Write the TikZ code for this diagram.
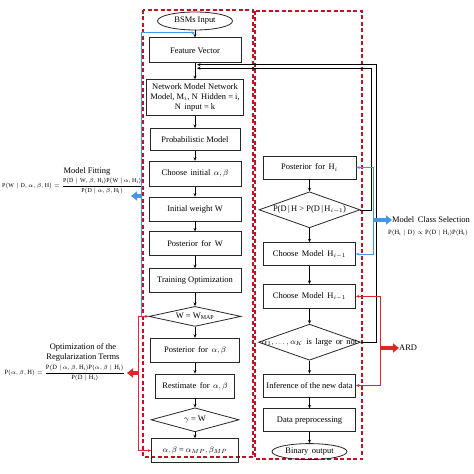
\documentclass[tikz,border=0pt]{standalone}
\usepackage{fontspec}
\usepackage{amsmath}
\setmainfont{Liberation Serif}
\usetikzlibrary{arrows.meta, positioning, shapes.geometric}

\definecolor{framered}{RGB}{196,18,36}
\definecolor{linkred}{RGB}{222,40,40}
\definecolor{linkblue}{RGB}{70,150,232}

\begin{document}
\begin{tikzpicture}[
    x=1bp, y=-1bp,
    font=\fontsize{8.5}{10}\selectfont,
    >={Stealth[length=3.5bp, width=3bp]},
    arrow/.style={->, line width=0.6bp},
    box/.style={rectangle, draw=black!85, line width=0.8bp, align=center, inner sep=1.5bp, minimum height=24bp, minimum width=92bp},
    terminal/.style={ellipse, draw=black!85, line width=0.8bp, inner sep=0bp, minimum width=75bp, minimum height=18bp},
    decision/.style={diamond, draw=black!85, line width=0.8bp, aspect=3, inner sep=0bp, minimum width=92bp, minimum height=20bp},
    dashframe/.style={draw=framered, line width=2.2bp, dash pattern=on 4bp off 2.5bp},
    blueline/.style={draw=linkblue, line width=0.8bp},
    redline/.style={draw=linkred, line width=0.8bp},
    fatblue/.style={draw=linkblue, line width=3.5bp, -{Triangle[length=6bp, width=9bp]}},
    fatred/.style={draw=linkred, line width=3.5bp, -{Triangle[length=6bp, width=9bp]}},
    eq/.style={inner sep=0bp, font=\fontsize{6.5}{7.5}\selectfont}
]
\useasboundingbox (0,0) rectangle (474,474);

% red dashed groups
\draw[dashframe] (143,10) rectangle (253,457);
\draw[dashframe] (255,11) rectangle (362,459);

% training column
\node[terminal] (bsm) at (195,21) {BSMs Input};
\node[box, minimum height=25bp, below=7bp of bsm] (fv) {Feature Vector};
\node[box, minimum height=36bp, minimum width=97bp, below=16bp of fv] (nm) {Network Model Network\\Model, M$_i$, N\, Hidden = i,\\N\, input = k};
\node[box, minimum height=22bp, minimum width=90bp, below=12bp of nm] (pm) {Probabilistic Model};
\node[box, minimum height=25bp, below=10bp of pm] (ci) {Choose\, initial\, $\alpha,\beta$};
\node[box, below=10bp of ci] (iw) {Initial weight W};
\node[box, below=10bp of iw] (pw) {Posterior\, for\, W};
\node[box, below=12bp of pw] (tro) {Training Optimization};
\node[decision, below=13bp of tro] (wmap) {W = W$_{\mathrm{MAP}}$};
\node[box, minimum width=89bp, below=11bp of wmap] (pab) {Posterior\, for\, $\alpha,\beta$};
\node[box, minimum width=79bp, below=11bp of pab] (rab) {Restimate\, for\, $\alpha,\beta$};
\node[decision, minimum width=88bp, minimum height=24bp, below=9bp of rab] (gw) {$\gamma$ = W};
\node[box, minimum width=87bp, below=6bp of gw] (abmp) {$\alpha,\beta$ = $\alpha_{MP},\beta_{MP}$};

% model selection column
\node[box, minimum height=23bp, minimum width=93bp] (phi) at (309.5,167.5) {Posterior\, for\, H$_i$};
\node[decision, minimum width=101bp, minimum height=36bp, below=12bp of phi] (dh) {P(D\,|\,H > P(D\,|\,H$_{i-1}$)};
\node[box, minimum height=23bp, below=14bp of dh] (cm1) {Choose\, Model\, H$_{i-1}$};
\node[box, below=18bp of cm1] (cm2) {Choose\, Model\, H$_{i-1}$};
\node[decision, minimum width=102bp, minimum height=36bp, inner xsep=-14bp, below=15bp of cm2] (da) {$\alpha_1,\ldots,\alpha_K$\, is\, large\, or\, not};
\node[box, minimum height=23bp, below=13bp of da] (inf) {Inference of the new data};
\node[box, minimum height=23bp, below=11bp of inf] (dp) {Data preprocessing};
\node[terminal, minimum height=16bp, below=11bp of dp] (bo) {Binary\, output};

% side notes
\node (fittitle) at (87,171) {Model Fitting};
\node[eq, anchor=west, font=\fontsize{6}{7}\selectfont] (fiteq) at (2,186) {$\mathrm{P(W\mid D,}\,\alpha,\beta,\mathrm{H)}=\dfrac{\mathrm{P(D\mid W,}\,\beta,\mathrm{H_i)P(W\mid}\,\alpha,\mathrm{H_i)}}{\mathrm{P(D\mid}\,\alpha,\beta,\mathrm{H_i)}}$};
\node[align=center] (opttitle) at (83,352) {Optimization of the\\Regularization Terms};
\node[eq, anchor=east] (opteq) at (125,373) {$\mathrm{P(}\alpha,\beta,\mathrm{H)}=\dfrac{\mathrm{P(D\mid}\,\alpha,\beta,\mathrm{H_i)P(}\alpha,\beta\mid\mathrm{H_i)}}{\mathrm{P(D\mid H_i)}}$};
\node[anchor=west, inner sep=0bp] (mcs) at (392,220) {Model\, Class Selection};
\node[eq, anchor=west] (mcseq) at (388,233) {$\mathrm{P(H_i\mid D)}\propto\mathrm{P(D\mid H_i)P(H_i)}$};
\node[anchor=west, inner sep=0bp] (ard) at (399,348) {ARD};

% flow
\draw[arrow] (bsm) -- (fv);
\draw[arrow] (fv) -- (nm);
\draw[arrow] (nm) -- (pm);
\draw[arrow] (pm) -- (ci);
\draw[arrow] (ci) -- (iw);
\draw[arrow] (iw) -- (pw);
\draw[arrow] (pw) -- (tro);
\draw[arrow] (tro) -- (wmap);
\draw[arrow] (wmap) -- (pab);
\draw[arrow] (pab) -- (rab);
\draw[arrow] (rab) -- (gw);
\draw[arrow] (gw) -- (abmp);
\draw[arrow] (phi) -- (dh);
\draw[arrow] (dh) -- (cm1);
\draw[arrow] (cm1) -- (cm2);
\draw[arrow] (cm2) -- (da);
\draw[arrow] (da) -- (inf);
\draw[arrow] (inf) -- (dp);
\draw[arrow] (dp) -- (bo);

% loops back to the network model
\coordinate (ret1) at ([xshift=2bp, yshift=-1.5bp]fv.south);
\coordinate (ret2) at ([xshift=2bp, yshift=-5bp]fv.south);
\draw[arrow] (da.east) -- ++(15,0) |- (ret1);
\draw[arrow] (dh.east) -- ++(11,0) |- (ret2);

% model fitting / regularization links
\coordinate (fvin) at ([yshift=-2.5bp]bsm.south);
\draw[blueline, ->] (wmap.west) -- ++(-7,0) |- (fvin);
\draw[redline, <->] (wmap.west) -- ++(-10,0) |- (abmp.west);
\coordinate (fitjoin) at (141,196);
\coordinate (fitarrow) at (131,196);
\draw[fatblue] (fitjoin) -- (fitarrow);
\coordinate (optjoin) at (138,373);
\coordinate (optarrow) at (127,373);
\draw[fatred] (optjoin) -- (optarrow);

% model class selection / ARD links
\draw[blueline, <->] (phi.east) -- ++(17,0) |- (cm1.east);
\coordinate (mcsjoin) at (373,220);
\draw[fatblue] (mcsjoin) -- (mcs.west);
\draw[redline, <->] (cm2.east) -- ++(24,0) |- (inf.east);
\coordinate (ardjoin) at (379.5,348);
\draw[fatred] (ardjoin) -- (ard.west);
\end{tikzpicture}
\end{document}
